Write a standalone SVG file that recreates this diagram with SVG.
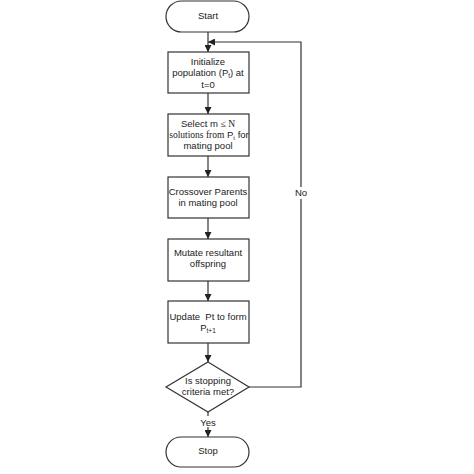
<svg xmlns="http://www.w3.org/2000/svg" width="474" height="474" viewBox="0 0 474 474">
<style>
.n{fill:#fff;stroke:#333;stroke-width:1.2}
.t{font-family:"Liberation Sans",Arial,sans-serif;font-size:9.5px;fill:#222;text-anchor:middle}
.s{font-family:"Liberation Serif","Times New Roman",serif}
.c{fill:none;stroke:#333;stroke-width:1.2}
</style>
<defs>
<marker id="a" viewBox="0 0 10 10" refX="10" refY="5" markerWidth="7" markerHeight="7" orient="auto" markerUnits="userSpaceOnUse">
<path d="M0,0L10,5L0,10z" fill="#222"/>
</marker>
</defs>
<rect width="474" height="474" fill="#fff"/>
<g id="connectors">
<path class="c" d="M208,32V52" marker-end="url(#a)"/>
<path class="c" d="M249,387H301V42H208" marker-end="url(#a)"/>
<path class="c" d="M208,93V114" marker-end="url(#a)"/>
<path class="c" d="M208,156V177" marker-end="url(#a)"/>
<path class="c" d="M208,218V239" marker-end="url(#a)"/>
<path class="c" d="M208,281V301" marker-end="url(#a)"/>
<path class="c" d="M208,343V362" marker-end="url(#a)"/>
<path class="c" d="M208,412V437" marker-end="url(#a)"/>
<rect x="196" y="416" width="24" height="11" fill="#fff"/>
<text class="t" x="208" y="426">Yes</text>
<rect x="292" y="187" width="18" height="12" fill="#fff"/>
<text class="t" x="301" y="196">No</text>
</g>
<g id="start">
<rect class="n" x="166" y="1" width="83" height="31" rx="15.5"/>
<text class="t" x="208" y="19">Start</text>
</g>
<g id="init">
<rect class="n" x="168" y="52" width="81" height="41"/>
<text class="t" x="208" y="65">Initialize</text>
<text class="t" x="208" y="76">population (P<tspan font-size="6.5" dy="2">t</tspan><tspan dy="-2">) at</tspan></text>
<text class="t" x="208" y="88">t=0</text>
</g>
<g id="select">
<rect class="n" x="168" y="114" width="81" height="42"/>
<text class="t" x="208" y="127">Select m <tspan class="s">≤ N</tspan></text>
<text class="t" x="209" y="138" font-size="8.6"><tspan class="s">solutions from</tspan> P<tspan font-size="6" dy="2">t</tspan><tspan dy="-2"> for</tspan></text>
<text class="t" x="208" y="149">mating pool</text>
</g>
<g id="crossover">
<rect class="n" x="168" y="177" width="81" height="41"/>
<text class="t" x="208" y="195">Crossover Parents</text>
<text class="t" x="208" y="206">in mating pool</text>
</g>
<g id="mutate">
<rect class="n" x="168" y="239" width="81" height="42"/>
<text class="t" x="208" y="256">Mutate resultant</text>
<text class="t" x="208" y="267">offspring</text>
</g>
<g id="update">
<rect class="n" x="168" y="301" width="81" height="42"/>
<text class="t" x="208" y="320">Update &#160;Pt to form</text>
<text class="t" x="208" y="331">P<tspan font-size="6.5" dy="2">t+1</tspan></text>
</g>
<g id="decision">
<path class="n" d="M208,362L249,387L208,412L166,387Z"/>
<text class="t" x="208" y="384">Is stopping</text>
<text class="t" x="208" y="395">criteria met?</text>
</g>
<g id="stop">
<rect class="n" x="166" y="437" width="83" height="30" rx="15"/>
<text class="t" x="208" y="454">Stop</text>
</g>
</svg>
